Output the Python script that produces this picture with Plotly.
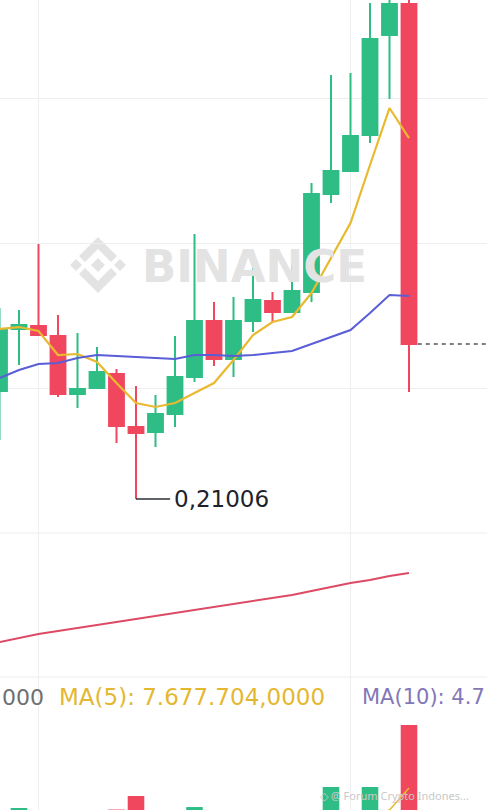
import plotly.graph_objects as go

W, H = 487, 810

# ---------------- data ----------------
idx = list(range(22))
open_ = [0.22496, 0.23351, 0.23392, 0.23254, 0.22454, 0.22537, 0.22730, 0.21999, 0.21930, 0.22178, 0.22689,
         0.23461, 0.22937, 0.23461, 0.23737, 0.23585, 0.23861, 0.25213, 0.25530, 0.26027, 0.27406, 0.27834]
high = [0.23640, 0.23613, 0.24523, 0.23544, 0.23296, 0.23103, 0.22799, 0.22565, 0.22441, 0.23254, 0.24661,
        0.23723, 0.23792, 0.24289, 0.23861, 0.24234, 0.25365, 0.26854, 0.26882, 0.27847, 0.27958, 0.27958]
low = [0.21820, 0.22854, 0.23254, 0.22413, 0.22261, 0.22523, 0.21778, 0.21006, 0.21723, 0.21999, 0.22620,
       0.22841, 0.22689, 0.23309, 0.23447, 0.23572, 0.23723, 0.25089, 0.25516, 0.25916, 0.26523, 0.22482]
close = [0.23337, 0.23406, 0.23268, 0.22454, 0.22523, 0.22758, 0.22013, 0.21916, 0.22178, 0.22689, 0.23461,
         0.22937, 0.23461, 0.23751, 0.23585, 0.23875, 0.25213, 0.25530, 0.26013, 0.27351, 0.27834, 0.23144]
ma5 = [0.23351, 0.23378, 0.23323, 0.22992, 0.23006, 0.22896, 0.22606, 0.22330, 0.22275, 0.22330, 0.22468,
       0.22606, 0.22923, 0.23268, 0.23447, 0.23516, 0.23847, 0.24330, 0.24813, 0.25613, 0.26399, 0.25985]
ma10 = [0.22675, 0.22785, 0.22868, 0.22882, 0.22951, 0.22992, 0.22978, 0.22965, 0.22951, 0.22937, 0.22992,
        0.22992, 0.22978, 0.22992, 0.23020, 0.23047, 0.23144, 0.23240, 0.23337, 0.23572, 0.23820, 0.23806]
indicator = [35, 39, 43, 46, 49, 52, 55, 58, 61, 64, 67, 70, 73, 76, 79, 82, 86, 90, 94, 97, 101, 104]
volume = [3.2e6, 4.73e6, 3.5e6, 3.9e6, 2.6e6, 3.0e6, 4.5e6, 6.5e6, 3.4e6, 4.1e6, 4.87e6,
          3.6e6, 3.3e6, 3.0e6, 2.2e6, 3.1e6, 4.2e6, 7.83e6, 3.0e6, 7.83e6, 2.8e6, 16.99e6]
vol_ma5 = [None] * 19 + [3.6e6, 4.43e6, 7.68e6]

vol_text = "000"
ma5_text = "MA(5): 7.677.704,0000"
ma10_text = "MA(10): 4.7"

# ---------------- styling ----------------
GREEN = "#2EBD85"
RED = "#F0475F"
YELLOW = "#E9B92F"
BLUE = "#5A5ED6"
PURPLE_TXT = "#8477B8"
IND_RED = "#DC4A64"
GRID = "#EEEEEE"
FONT = "DejaVu Sans"


def px(x, y):
    return x / W, 1 - y / H


fig = go.Figure()

fig.add_trace(go.Candlestick(
    x=idx, open=open_, high=high, low=low, close=close,
    increasing=dict(line=dict(color=GREEN, width=2), fillcolor=GREEN),
    decreasing=dict(line=dict(color=RED, width=2), fillcolor=RED),
    whiskerwidth=0, xaxis="x", yaxis="y", showlegend=False, hoverinfo="skip"))

fig.add_trace(go.Scatter(x=idx, y=ma5, mode="lines", line=dict(color=YELLOW, width=2.2),
                         xaxis="x", yaxis="y", showlegend=False, hoverinfo="skip"))
fig.add_trace(go.Scatter(x=idx, y=ma10, mode="lines", line=dict(color=BLUE, width=2),
                         xaxis="x", yaxis="y", showlegend=False, hoverinfo="skip"))

# last price dashed line
last = close[-1]
fig.add_trace(go.Scatter(x=[idx[-1] + 0.45, idx[-1] + 4.2], y=[last, last], mode="lines",
                         line=dict(color="#555555", width=1.3, dash="4px,4px"),
                         xaxis="x", yaxis="y", showlegend=False, hoverinfo="skip"))

# lowest price marker
li = low.index(min(low))
fig.add_trace(go.Scatter(x=[idx[li], idx[li] + 1.75], y=[low[li], low[li]], mode="lines",
                         line=dict(color="#2B2F36", width=1.3),
                         xaxis="x", yaxis="y", showlegend=False, hoverinfo="skip"))

# indicator pane
fig.add_trace(go.Scatter(x=idx, y=indicator, mode="lines", line=dict(color=IND_RED, width=2),
                         xaxis="x2", yaxis="y2", showlegend=False, hoverinfo="skip"))

# volume pane
vcolors = [GREEN if c >= o else RED for o, c in zip(open_, close)]
fig.add_trace(go.Bar(x=idx, y=volume, marker=dict(color=vcolors, line=dict(width=0)), width=0.85,
                     xaxis="x3", yaxis="y3", showlegend=False, hoverinfo="skip"))
fig.add_trace(go.Scatter(x=idx, y=vol_ma5, mode="lines", line=dict(color=YELLOW, width=1.5),
                         xaxis="x3", yaxis="y3", showlegend=False, hoverinfo="skip"))

xr = [0.0256, 25.0]
xcommon = dict(range=xr, tickvals=[2, 18], showgrid=True, gridcolor=GRID, gridwidth=1.2,
               showticklabels=False, zeroline=False, showline=False, ticks="")

price_lo, price_hi = 0.20537, 0.27889
fig.update_layout(
    width=W, height=H, margin=dict(l=0, r=0, t=0, b=0),
    paper_bgcolor="white", plot_bgcolor="white",
    boxgap=0.24, boxgroupgap=0,
    xaxis=dict(**xcommon, domain=[0, 1], anchor="y", rangeslider=dict(visible=False)),
    xaxis2=dict(**xcommon, domain=[0, 1], anchor="y2", matches="x"),
    xaxis3=dict(**xcommon, domain=[0, 1], anchor="y3", matches="x"),
    yaxis=dict(domain=[1 - 533 / H, 1], range=[price_lo, price_hi], tick0=0.22537, dtick=0.02,
               showgrid=True, gridcolor=GRID, gridwidth=1.2, showticklabels=False, zeroline=False, ticks=""),
    yaxis2=dict(domain=[1 - 677 / H, 1 - 533 / H], range=[0, 144], showgrid=False,
                showticklabels=False, zeroline=False, ticks=""),
    yaxis3=dict(domain=[0, 1 - 677 / H], range=[4.431e6, 24.08e6], showgrid=False,
                showticklabels=False, zeroline=False, ticks=""),
)

shapes = []
for yy in (533, 677):
    shapes.append(dict(type="line", xref="paper", yref="paper", x0=0, x1=1,
                       y0=1 - yy / H, y1=1 - yy / H, line=dict(color=GRID, width=1.2), layer="below"))

# Binance watermark logo
def poly(points):
    s = ""
    for k, (x, y) in enumerate(points):
        X, Y = px(x, y)
        s += ("M" if k == 0 else "L") + f"{X:.5f},{Y:.5f} "
    return s + "Z"

cx, cy = 98, 265
WM = "#E3E3E3"
logo_parts = [
    [(cx, cy - 7), (cx + 7, cy), (cx, cy + 7), (cx - 7, cy)],
    [(cx - 22, cy - 6), (cx - 16, cy), (cx - 22, cy + 6), (cx - 28, cy)],
    [(cx + 22, cy - 6), (cx + 28, cy), (cx + 22, cy + 6), (cx + 16, cy)],
    [(cx, cy - 28), (cx + 19, cy - 9), (cx + 13, cy - 3), (cx, cy - 16), (cx - 13, cy - 3), (cx - 19, cy - 9)],
    [(cx, cy + 28), (cx + 19, cy + 9), (cx + 13, cy + 3), (cx, cy + 16), (cx - 13, cy + 3), (cx - 19, cy + 9)],
]
for p in logo_parts:
    shapes.append(dict(type="path", xref="paper", yref="paper", path=poly(p),
                       fillcolor=WM, line=dict(width=0), layer="below"))
fig.update_layout(shapes=shapes)

ann = []
ann.append(dict(x=idx[li] + 1.85, y=low[li], xref="x", yref="y", text=f"{low[li]:.5f}".replace(".", ","),
                showarrow=False, xanchor="left", yanchor="middle",
                font=dict(family=FONT, size=23, color="#1E2329")))
bx, by = px(140, 266)
ann.append(dict(x=bx, y=by, xref="paper", yref="paper", text="<b>BINANCE</b>", showarrow=False,
                xanchor="left", yanchor="middle", font=dict(family=FONT, size=45, color=WM)))
tx, ty = px(0, 697)
ann.append(dict(x=tx, y=ty, xref="paper", yref="paper", text=vol_text, showarrow=False,
                xanchor="left", yanchor="middle", font=dict(family=FONT, size=22, color="#707070")))
tx, ty = px(57, 697)
ann.append(dict(x=tx, y=ty, xref="paper", yref="paper", text=ma5_text, showarrow=False,
                xanchor="left", yanchor="middle", font=dict(family=FONT, size=23, color="#E3B830")))
tx, ty = px(360, 697)
ann.append(dict(x=tx, y=ty, xref="paper", yref="paper", text=ma10_text, showarrow=False,
                xanchor="left", yanchor="middle", font=dict(family=FONT, size=21, color=PURPLE_TXT)))
tx, ty = px(318, 795)
ann.append(dict(x=tx, y=ty, xref="paper", yref="paper", text="◇ @ Forum Crypto Indones...", showarrow=False,
                xanchor="left", yanchor="middle", font=dict(family="Noto Sans", size=11, color="#C9C9C9")))
fig.update_layout(annotations=ann)

fig.write_html("out.html", config={"displayModeBar": False},
               post_script="document.body.style.margin='0';document.body.style.overflow='hidden';")
